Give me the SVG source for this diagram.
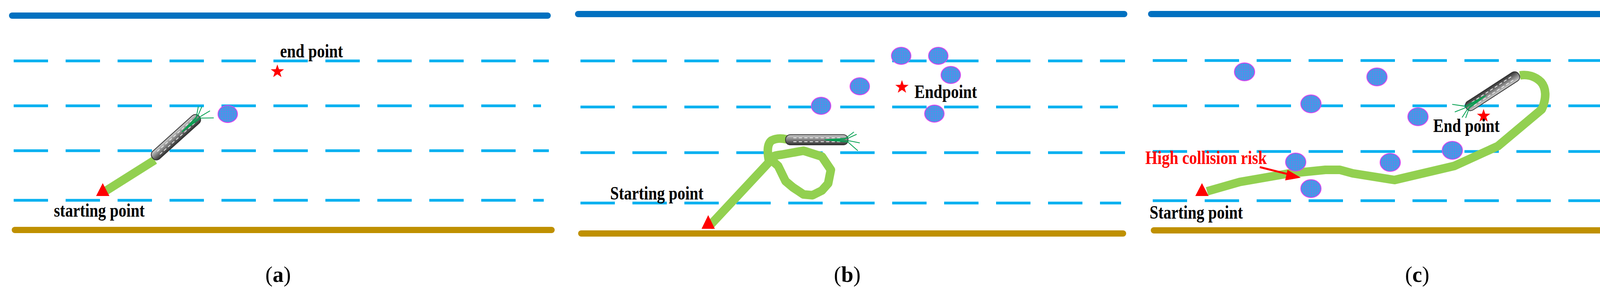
<svg xmlns="http://www.w3.org/2000/svg" width="4357" height="753" viewBox="0 0 4357 753">
<style>
.top{stroke:#0070c0;stroke-width:16;stroke-linecap:round;fill:none}
.bot{stroke:#bf9000;stroke-width:16;stroke-linecap:round;fill:none}
.dash{stroke:#00b0f0;stroke-width:7;stroke-dasharray:88 45;fill:none}
.path{stroke:#92d050;stroke-width:22;fill:none;stroke-linejoin:round}
.obs{fill:url(#grid);stroke:#e040f0;stroke-width:2}
.lbl{font-family:"Liberation Serif",serif;font-weight:bold;font-size:40px;fill:#000}
.cap{font-family:"Liberation Serif",serif;font-size:56px;fill:#000;text-anchor:middle}
.tent{stroke:#00a050;stroke-width:2;fill:none}
</style>
<defs>
<pattern id="grid" width="6" height="6" patternUnits="userSpaceOnUse">
<rect width="6" height="6" fill="#3aa0e8"/>
<path d="M0 0H6M0 0V6" stroke="#b050e0" stroke-width="1.2"/>
</pattern>
<linearGradient id="metal" x1="0" y1="0" x2="0" y2="1">
<stop offset="0" stop-color="#d0d0d0"/><stop offset="0.5" stop-color="#808080"/><stop offset="1" stop-color="#303030"/>
</linearGradient>
<g id="robot">
<rect x="0" y="-13" width="160" height="26" rx="12" fill="url(#metal)" stroke="#333" stroke-width="2"/>
<path d="M20 -5h120M20 5h120" stroke="#eee" stroke-width="2" stroke-dasharray="8 6"/>
<path class="tent" d="M100 0L160 -4L182 -14M100 0L165 3L190 8M100 0L160 6L185 28M100 0L150 -1L175 -20"/>
</g>
<g id="star"><polygon points="0,-18 4.2,-5.8 17,-5.6 6.8,2.2 10.6,14.6 0,7.2 -10.6,14.6 -6.8,2.2 -17,-5.6 -4.2,-5.8" fill="#ff0000"/></g>
</defs>

<g id="panel-a">
<line class="top" x1="31" y1="40" x2="1402" y2="40"/>
<line class="dash" x1="35" y1="156" x2="1405" y2="156"/>
<line class="dash" x1="35" y1="271" x2="1385" y2="271"/>
<line class="dash" x1="35" y1="386" x2="1405" y2="386"/>
<line class="dash" x1="35" y1="513" x2="1392" y2="513"/>
<line class="bot" x1="38" y1="589" x2="1412" y2="589"/>
<g id="a-path"><path class="path" d="M266 492L396 410"/></g>
<g id="a-robot"><use href="#robot" transform="translate(391,405) rotate(-42)"/></g>
<g id="a-obstacle"><ellipse class="obs" cx="583" cy="292" rx="25" ry="22"/></g>
<g id="a-start"><polygon points="263,469 246,502 280,502" fill="#ff0000"/>
<text class="lbl" transform="translate(138,555) scale(1,1.2)">starting point</text></g>
<g id="a-end"><use href="#star" transform="translate(710,183)"/>
<text class="lbl" transform="translate(717,147) scale(1,1.2)">end point</text></g>
<text class="cap" x="712" y="722">(<tspan font-weight="bold">a</tspan>)</text>
</g>

<g id="panel-b">
<line class="top" x1="1480" y1="36" x2="2878" y2="36"/>
<line class="dash" x1="1486" y1="156" x2="2880" y2="156"/>
<line class="dash" x1="1486" y1="274" x2="2862" y2="274"/>
<line class="dash" x1="1486" y1="391" x2="2880" y2="391"/>
<line class="dash" x1="1486" y1="520" x2="2870" y2="520"/>
<line class="bot" x1="1488" y1="598" x2="2875" y2="598"/>
<g id="b-path"><path class="path" d="M1815 580L1969 415C1965 395 1962 370 1975 360C1990 352 2005 355 2015 357M1969 415C1965 405 1980 398 2001 396L2057 386L2104 401L2127 435L2120 470L2104 488L2080 500L2057 498L2030 480L2011 464L1992 425L1975 410"/></g>
<g id="b-robot"><use href="#robot" transform="translate(2011,358)"/></g>
<g id="b-obstacles">
<ellipse class="obs" cx="2307" cy="143" rx="25" ry="22"/>
<ellipse class="obs" cx="2402" cy="143" rx="25" ry="22"/>
<ellipse class="obs" cx="2434" cy="192" rx="25" ry="22"/>
<ellipse class="obs" cx="2201" cy="221" rx="25" ry="22"/>
<ellipse class="obs" cx="2102" cy="271" rx="25" ry="22"/>
<ellipse class="obs" cx="2392" cy="291" rx="25" ry="22"/>
</g>
<g id="b-start"><polygon points="1813,551 1796,586 1830,586" fill="#ff0000"/>
<text class="lbl" transform="translate(1562,511) scale(1,1.2)">Starting point</text></g>
<g id="b-end"><use href="#star" transform="translate(2309,223)"/>
<text class="lbl" transform="translate(2341,251) scale(1,1.2)">Endpoint</text></g>
<text class="cap" x="2169" y="722">(<tspan font-weight="bold">b</tspan>)</text>
</g>

<g id="panel-c">
<line class="top" x1="2947" y1="36" x2="4330" y2="36"/>
<line class="dash" x1="2951" y1="155" x2="4335" y2="155"/>
<line class="dash" x1="2951" y1="271" x2="4315" y2="271"/>
<line class="dash" x1="2951" y1="388" x2="4335" y2="388"/>
<line class="dash" x1="2951" y1="514" x2="4322" y2="514"/>
<line class="bot" x1="2954" y1="590" x2="4332" y2="590"/>
<g id="c-path"><path class="path" d="M3090 490L3174 466L3295 445L3393 435L3430 435L3463 444L3570 461L3723 425L3835 374L3947 280C3960 250 3958 225 3945 210C3930 195 3910 190 3891 193"/></g>
<g id="c-robot"><use href="#robot" transform="translate(3888,190) rotate(147)"/></g>
<g id="c-obstacles">
<ellipse class="obs" cx="3186" cy="184" rx="26" ry="23"/>
<ellipse class="obs" cx="3525" cy="197" rx="26" ry="23"/>
<ellipse class="obs" cx="3356" cy="266" rx="26" ry="23"/>
<ellipse class="obs" cx="3630" cy="299" rx="26" ry="23"/>
<ellipse class="obs" cx="3718" cy="385" rx="26" ry="23"/>
<ellipse class="obs" cx="3317" cy="415" rx="26" ry="23"/>
<ellipse class="obs" cx="3559" cy="416" rx="26" ry="23"/>
<ellipse class="obs" cx="3356" cy="483" rx="26" ry="23"/>
</g>
<g id="c-start"><polygon points="3077,469 3060,502 3094,502" fill="#ff0000"/>
<text class="lbl" transform="translate(2943,560) scale(1,1.2)">Starting point</text></g>
<g id="c-end"><use href="#star" transform="translate(3798,297)"/>
<text class="lbl" transform="translate(3669,338) scale(1,1.2)">End point</text></g>
<g id="c-risk"><text class="lbl" style="fill:#ff0000" transform="translate(2932,420) scale(1,1.2)">High collision risk</text>
<line x1="3225" y1="428" x2="3305" y2="448" stroke="#ff0000" stroke-width="5"/>
<polygon points="3330,455 3296,435 3290,462" fill="#ff0000"/></g>
<text class="cap" x="3628" y="722">(<tspan font-weight="bold">c</tspan>)</text>
</g>
</svg>
